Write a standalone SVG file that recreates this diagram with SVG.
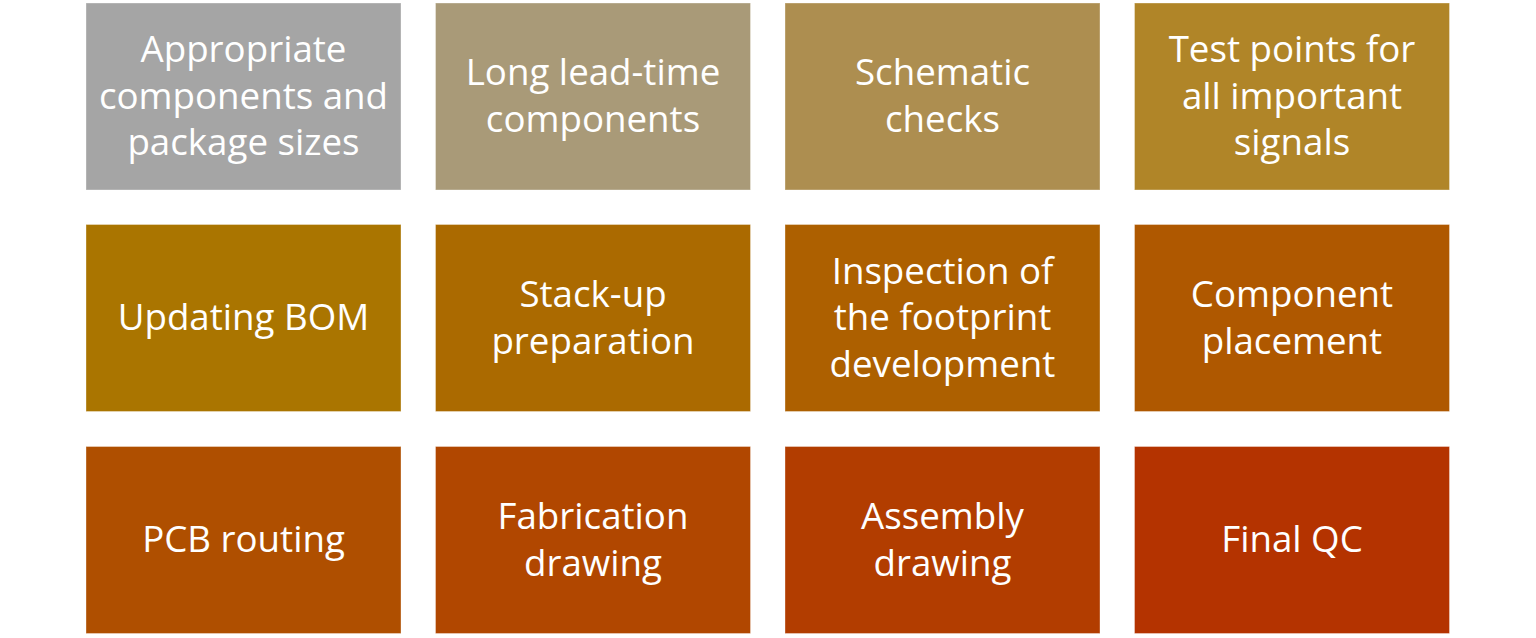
<svg xmlns="http://www.w3.org/2000/svg" width="1536" height="638" viewBox="0 0 1536 638">
<style>
.box{stroke:#ffffff;stroke-opacity:0.35;stroke-width:1}
.t{font-family:"Open Sans","Liberation Sans",sans-serif;font-size:36.7px;fill:#ffffff;text-anchor:middle}
</style>
<rect width="1536" height="638" fill="#ffffff"/>
<g id="n1"><rect class="box" x="86" y="3" width="315" height="187" fill="#A5A5A5"/><text class="t" x="243.5" y="62">Appropriate</text><text class="t" x="243.5" y="108.5">components and</text><text class="t" x="243.5" y="155">package sizes</text></g>
<g id="n2"><rect class="box" x="435.5" y="3" width="315" height="187" fill="#A99A78"/><text class="t" x="593" y="85">Long lead-time</text><text class="t" x="593" y="131.5">components</text></g>
<g id="n3"><rect class="box" x="785" y="3" width="315" height="187" fill="#AD8E50"/><text class="t" x="942.5" y="85">Schematic</text><text class="t" x="942.5" y="131.5">checks</text></g>
<g id="n4"><rect class="box" x="1134.5" y="3" width="315" height="187" fill="#B08528"/><text class="t" x="1292" y="62">Test points for</text><text class="t" x="1292" y="108.5">all important</text><text class="t" x="1292" y="155">signals</text></g>
<g id="n5"><rect class="box" x="86" y="224.5" width="315" height="187" fill="#AA7500"/><text class="t" x="243.5" y="330">Updating BOM</text></g>
<g id="n6"><rect class="box" x="435.5" y="224.5" width="315" height="187" fill="#AB6A00"/><text class="t" x="593" y="307">Stack-up</text><text class="t" x="593" y="353.5">preparation</text></g>
<g id="n7"><rect class="box" x="785" y="224.5" width="315" height="187" fill="#AD6000"/><text class="t" x="942.5" y="283.5">Inspection of</text><text class="t" x="942.5" y="330">the footprint</text><text class="t" x="942.5" y="376.5">development</text></g>
<g id="n8"><rect class="box" x="1134.5" y="224.5" width="315" height="187" fill="#AF5800"/><text class="t" x="1292" y="307">Component</text><text class="t" x="1292" y="353.5">placement</text></g>
<g id="n9"><rect class="box" x="86" y="446.5" width="315" height="187" fill="#AF4F00"/><text class="t" x="243.5" y="552">PCB routing</text></g>
<g id="n10"><rect class="box" x="435.5" y="446.5" width="315" height="187" fill="#B14700"/><text class="t" x="593" y="529">Fabrication</text><text class="t" x="593" y="575.5">drawing</text></g>
<g id="n11"><rect class="box" x="785" y="446.5" width="315" height="187" fill="#B23D00"/><text class="t" x="942.5" y="529">Assembly</text><text class="t" x="942.5" y="575.5">drawing</text></g>
<g id="n12"><rect class="box" x="1134.5" y="446.5" width="315" height="187" fill="#B43300"/><text class="t" x="1292" y="552">Final QC</text></g>
<g id="connectors"></g>
</svg>
